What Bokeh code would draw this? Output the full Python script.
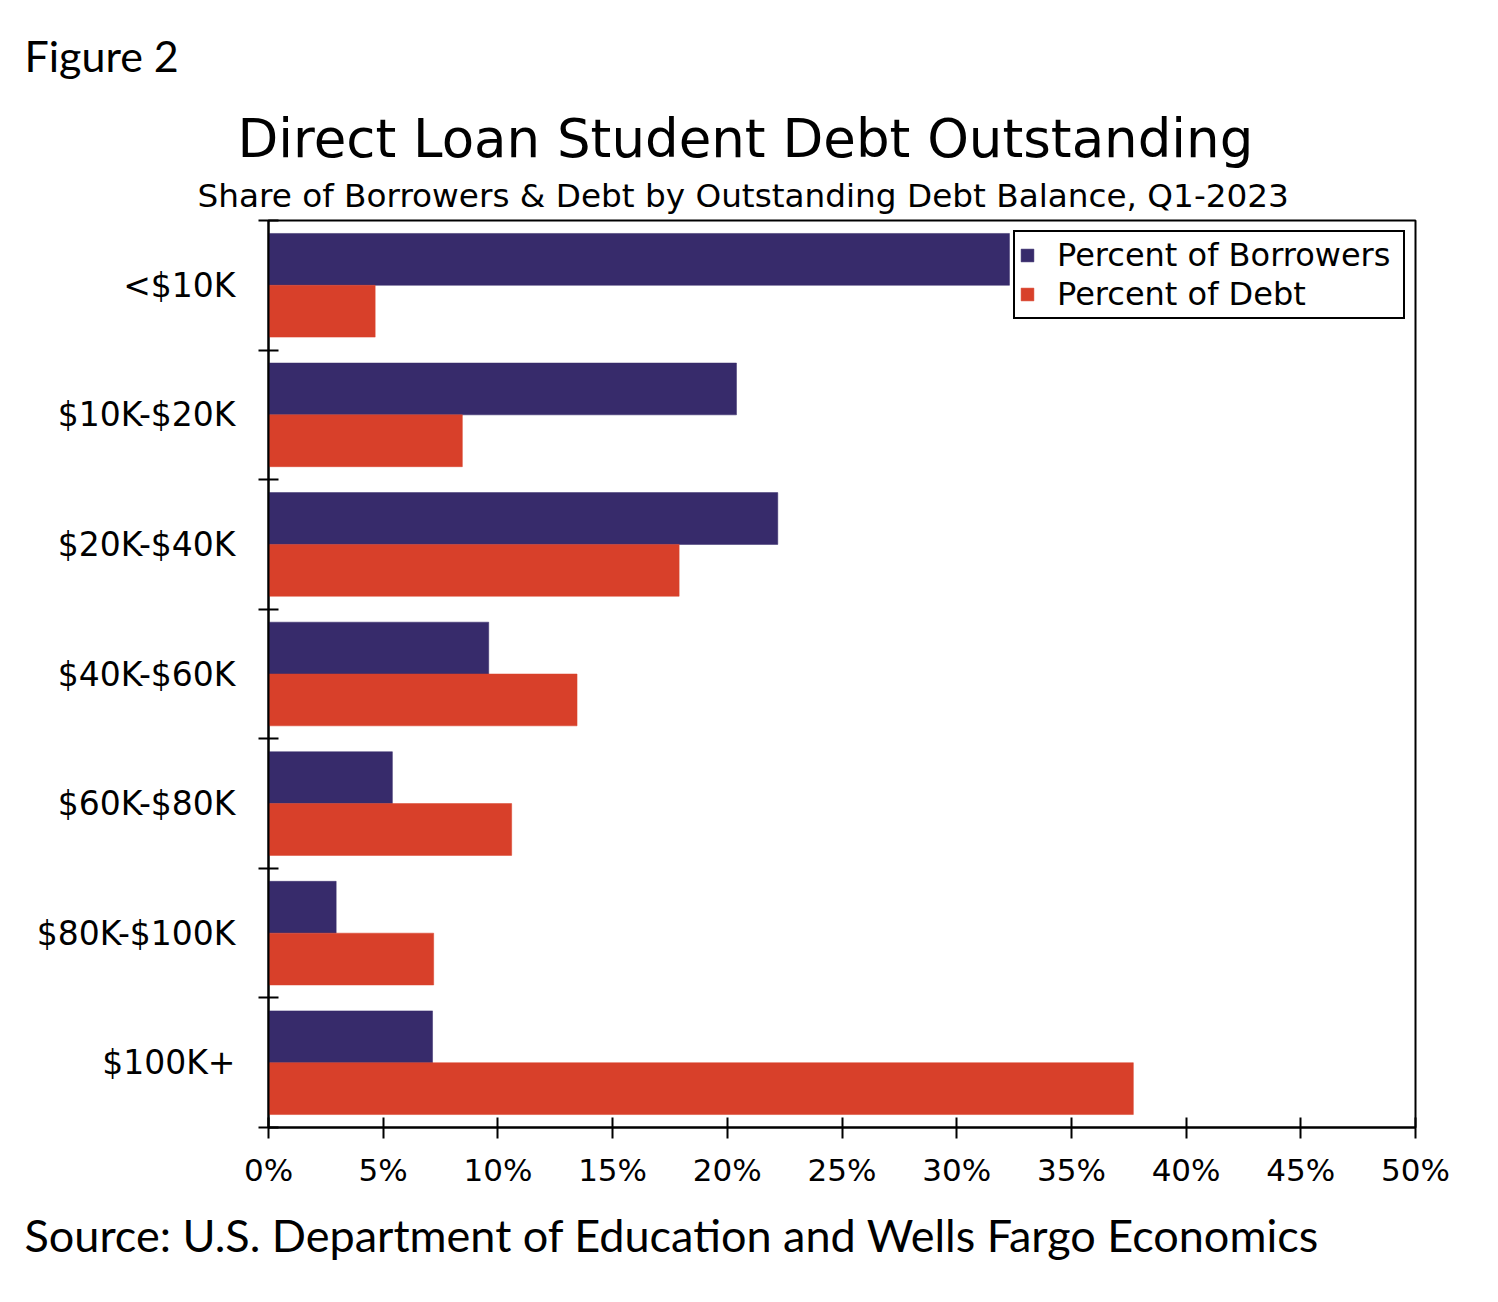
from bokeh.plotting import figure
from bokeh.models import FixedTicker, Legend, LegendItem, ColumnDataSource, Title
from bokeh.embed import file_html
from bokeh.resources import INLINE

categories = ["<$10K", "$10K-$20K", "$20K-$40K", "$40K-$60K", "$60K-$80K", "$80K-$100K", "$100K+"]
borrowers = [32.3, 20.4, 22.2, 9.6, 5.4, 2.95, 7.15]
debt = [4.65, 8.45, 17.9, 13.45, 10.6, 7.2, 37.7]
x_ticks = [0, 5, 10, 15, 20, 25, 30, 35, 40, 45, 50]

fig_label = "Figure 2"
title = "Direct Loan Student Debt Outstanding"
subtitle = "Share of Borrowers & Debt by Outstanding Debt Balance, Q1-2023"
source = "Source: U.S. Department of Education and Wells Fargo Economics"

navy = "#372B6B"
red = "#D8402A"
chart_font = "DejaVu Sans"
note_font = "Lato"

n = len(categories)
centers = [n - i - 0.5 for i in range(n)]

src = ColumnDataSource(data=dict(
    cat=categories,
    yb=[c + 0.2 for c in centers],
    yd=[c - 0.2 for c in centers],
    borrowers=borrowers,
    debt=debt,
))

W, H = 1482, 1286
L, R, T, B = 268, 1415, 220, 1127   # frame edges in pixels
p = figure(width=W, height=H, x_range=(0, 50), y_range=(0, n),
           output_backend="svg", toolbar_location=None,
           min_border_left=L, min_border_right=W - R,
           min_border_top=T, min_border_bottom=H - B)
p.grid.visible = False
p.outline_line_color = "black"
p.outline_line_width = 2
p.outline_line_alpha = 1

rb = p.hbar(y="yb", right="borrowers", left=0, height=0.4, source=src,
            fill_color=navy, line_color=navy, line_width=0.5)
rd = p.hbar(y="yd", right="debt", left=0, height=0.4, source=src,
            fill_color=red, line_color=red, line_width=0.5)

xa = p.xaxis[0]
xa.ticker = FixedTicker(ticks=x_ticks, minor_ticks=[])
xa.major_label_overrides = {t: f"{t}%" for t in x_ticks}
xa.major_label_text_font = chart_font
xa.major_label_text_font_size = "31px"
xa.major_label_text_color = "black"
xa.major_tick_in = 10
xa.major_tick_out = 11
xa.major_tick_line_width = 2
xa.axis_line_width = 2
xa.axis_line_color = "black"
xa.major_label_standoff = 13

# y axis: labels at centers, ticks at the band edges
ya = p.yaxis[0]
ya.ticker = FixedTicker(ticks=centers, minor_ticks=list(range(n + 1)))
ya.major_label_overrides = {c: cat for c, cat in zip(centers, categories)}
ya.major_label_text_font = chart_font
ya.major_label_text_font_size = "33px"
ya.major_label_text_color = "black"
ya.major_tick_in = 0
ya.major_tick_out = 0
ya.minor_tick_in = 10
ya.minor_tick_out = 10
ya.minor_tick_line_width = 2
ya.minor_tick_line_color = "black"
ya.axis_line_width = 2
ya.axis_line_color = "black"
ya.major_label_standoff = 23

legend = Legend(items=[LegendItem(label="Percent of Borrowers", renderers=[rb]),
                       LegendItem(label="Percent of Debt", renderers=[rd])],
                location="top_right")
legend.label_text_font = chart_font
legend.label_text_font_size = "32px"
legend.label_text_color = "black"
legend.border_line_color = "black"
legend.border_line_width = 2
legend.border_line_alpha = 1
legend.glyph_width = 16
legend.glyph_height = 16
legend.label_height = 34
legend.label_width = 342
legend.spacing = 1
legend.padding = 4
legend.margin = 10
legend.label_standoff = 22
legend.background_fill_alpha = 1
p.add_layout(legend)

# titles above (first added sits nearest the frame), source below the axis
p.add_layout(Title(text=subtitle, align="left", offset=197 - L, standoff=12,
                   text_font=chart_font, text_font_size="32.7px", text_font_style="normal",
                   text_color="black"), "above")
p.add_layout(Title(text=title, align="left", offset=237 - L, standoff=0,
                   text_font=chart_font, text_font_size="53px", text_font_style="normal",
                   text_color="black"), "above")
p.add_layout(Title(text=fig_label, align="left", offset=24 - L, standoff=50,
                   text_font=note_font, text_font_size="43px", text_font_style="normal",
                   text_color="black"), "above")
p.add_layout(Title(text=source, align="left", offset=24 - L, standoff=30,
                   text_font=note_font, text_font_size="45px", text_font_style="normal",
                   text_color="black"), "below")

open("out.html", "w").write(file_html(p, INLINE))
